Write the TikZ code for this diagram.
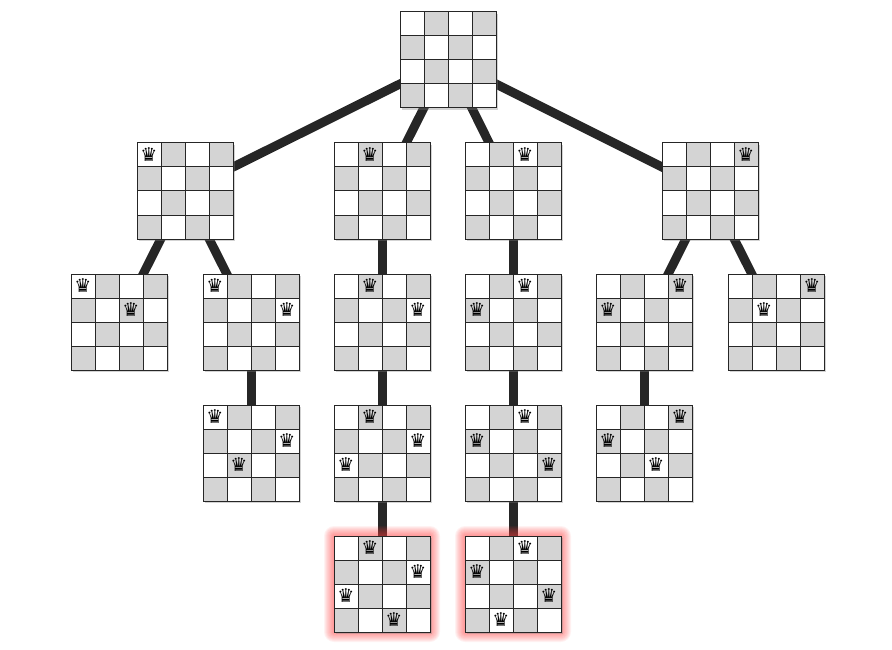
\documentclass[tikz,border=0pt]{standalone}
\usepackage{fontspec}
\newfontfamily\qfont{DejaVu Sans}
\usetikzlibrary{shadows}
\pgfdeclarelayer{background}
\pgfsetlayers{background,main}
\tikzset{
 boardn/.style={draw=black!85,fill=white,minimum size=96pt,inner sep=0pt,line width=1pt,drop shadow={opacity=0.35}},
 edge/.style={line width=9pt,draw=black!85},
 queen/.style={font=\qfont\fontsize{19}{19}\selectfont,inner sep=0pt},
 cellg/.style={fill=black!17}
}
\newcommand\boardbase[3]{%
 \node[boardn] (#1) at (#2+48,#3+48) {};
 \foreach \r in {0,...,3} \foreach \c in {0,...,3} {%
   \pgfmathtruncatemacro\pp{mod(\r+\c,2)}%
   \ifnum\pp=1 \fill[cellg] (#2+24*\c,#3+24*\r) rectangle ++(24,24); \fi}
 \foreach \k in {1,2,3} {\draw[black!85,line width=1pt] (#2+24*\k,#3) -- ++(0,96);
   \draw[black!85,line width=1pt] (#2,#3+24*\k) -- ++(96,0);}
 \draw[black!85,line width=1pt] (#2,#3) rectangle ++(96,96);
}
\newcommand\board[4]{\boardbase{#1}{#2}{#3}%
 \foreach \r/\c in {#4} \node[queen] at (#2+24*\c+12,#3+24*\r+12) {♛};}
\newcommand\glow[2]{\foreach \i in {1,...,10} \fill[red!75,opacity=0.07,rounded corners=\i pt] (#1-\i,#2-\i) rectangle (#1+96+\i,#2+96+\i);}
\begin{document}
\begin{tikzpicture}[x=1pt,y=-1pt]
\useasboundingbox (0,0) rectangle (892,650);
\glow{334}{536}\glow{465}{536}
\boardbase{R}{400}{12}
\board{A}{137}{143}{0/0}
\board{B}{334}{143}{0/1}
\board{C}{465}{143}{0/2}
\board{D}{662}{143}{0/3}
\board{A1}{71}{274}{0/0,1/2}
\board{A2}{203}{274}{0/0,1/3}
\board{B1}{334}{274}{0/1,1/3}
\board{C1}{465}{274}{0/2,1/0}
\board{D1}{596}{274}{0/3,1/0}
\board{D2}{728}{274}{0/3,1/1}
\board{A2a}{203}{405}{0/0,1/3,2/1}
\board{B1a}{334}{405}{0/1,1/3,2/0}
\board{C1a}{465}{405}{0/2,1/0,2/3}
\board{D1a}{596}{405}{0/3,1/0,2/2}
\board{B1b}{334}{536}{0/1,1/3,2/0,3/2}
\board{C1b}{465}{536}{0/2,1/0,2/3,3/1}
\begin{pgfonlayer}{background}
\foreach \p/\c in {R/A,R/B,R/C,R/D,A/A1,A/A2,B/B1,C/C1,D/D1,D/D2,A2/A2a,B1/B1a,C1/C1a,D1/D1a,B1a/B1b,C1a/C1b}
 \draw[edge] (\p.center) -- (\c.center);
\end{pgfonlayer}
\end{tikzpicture}
\end{document}
